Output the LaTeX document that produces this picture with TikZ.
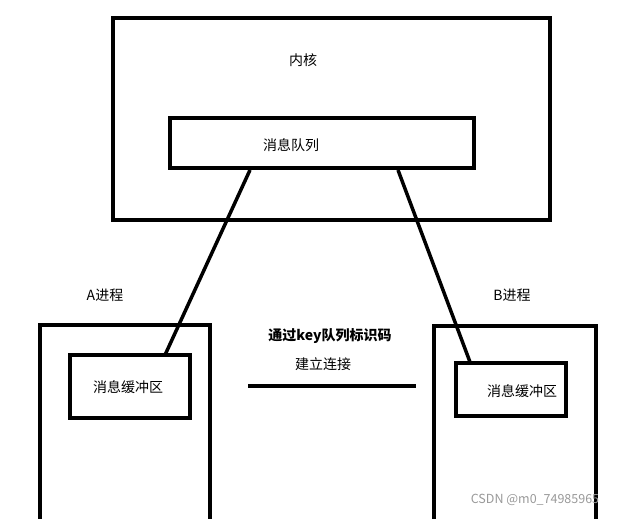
\documentclass[tikz,border=0pt]{standalone}
\usepackage{fontspec}
\setmainfont{Noto Sans CJK SC}
\begin{document}
\begin{tikzpicture}[x=1pt,y=-1pt,
  box/.style={draw,line width=3.5pt,inner sep=0pt},
  lbl/.style={font=\fontsize{14}{16}\selectfont},
  conn/.style={line width=3.5pt}]
\useasboundingbox (0,0) rectangle (640,519);
\draw[box] (113,18) rectangle (550,220);
\draw[box] (170,118) rectangle (474,168);
\node[lbl] (k) at (303,60) {内核};
\node[lbl] (q) at (291,145) {消息队列};
\node[lbl] (pa) at (105,295) {A进程};
\node[lbl] (pb) at (512,295) {B进程};
\draw[line width=3.5pt] (40,519) -- (40,325) -- (210,325) -- (210,519);
\draw[line width=3.5pt] (434,519) -- (434,326) -- (596,326) -- (596,519);
\draw[box] (70,355) rectangle (190,418);
\draw[box] (456,363) rectangle (566,416);
\node[lbl] (ba) at (128,387) {消息缓冲区};
\node[lbl] (bb) at (522,391) {消息缓冲区};
\coordinate (q1) at (250,170);
\coordinate (a1) at (165,355);
\coordinate (q2) at (398,170);
\coordinate (b1) at (470,362);
\draw[conn] (q1) -- (a1);
\draw[conn] (q2) -- (b1);
\node[lbl,font=\fontsize{14}{16}\selectfont\bfseries] (t1) at (330,336) {通过key队列标识码};
\node[lbl] (t2) at (323,364) {建立连接};
\coordinate (l1) at (248,386);
\coordinate (l2) at (416,386);
\draw[conn] (l1) -- (l2);
\node[font=\fontsize{12.5}{14}\selectfont,text=gray!80] (w) at (535,500) {CSDN @m0\_74985965};
\end{tikzpicture}
\end{document}
